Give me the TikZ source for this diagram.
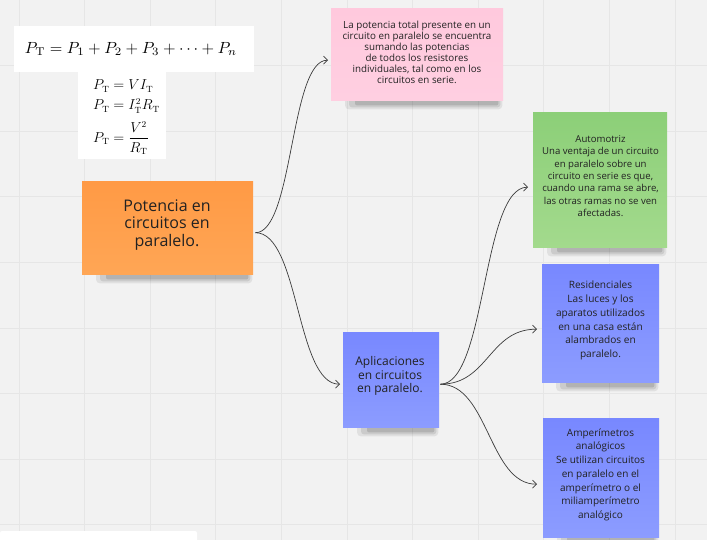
\documentclass[tikz,border=0pt]{standalone}
\usepackage[no-math]{fontspec}
\setmainfont{Open Sans}
\usepackage{amsmath}
\usepackage{graphicx}
\usetikzlibrary{backgrounds,arrows.meta}
\definecolor{bgc}{HTML}{F2F2F2}
\definecolor{gridc}{HTML}{E6E6E6}
\definecolor{txt}{HTML}{222222}
\definecolor{lnc}{HTML}{3A3A3A}
\definecolor{orA}{HTML}{FF9A45}
\definecolor{orB}{HTML}{FFA655}
\definecolor{pkA}{HTML}{FFC9DD}
\definecolor{pkB}{HTML}{FFCFE1}
\definecolor{grA}{HTML}{8CCF78}
\definecolor{grB}{HTML}{A3DA8D}
\definecolor{blA}{HTML}{7888FF}
\definecolor{blB}{HTML}{8C9CFF}
\newcommand\shadowunder[1]{%
  \begin{scope}[on background layer]
    \fill[black,opacity=0.07,rounded corners=4] ([xshift=14pt,yshift=-9pt]#1.south west) rectangle ([xshift=-1pt,yshift=3pt]#1.south east);
    \fill[black,opacity=0.09,rounded corners=3] ([xshift=18pt,yshift=-7pt]#1.south west) rectangle ([xshift=-3pt,yshift=3pt]#1.south east);
    \fill[black,opacity=0.12,rounded corners=2] ([xshift=24pt,yshift=-5pt]#1.south west) rectangle ([xshift=-5pt,yshift=3pt]#1.south east);
  \end{scope}}
\begin{document}
\begin{tikzpicture}[x=1pt,y=-1pt,
  sticky/.style={anchor=north west, inner sep=0pt, draw=none},
  stxt/.style={align=center, text=txt, inner sep=0pt},
  fml/.style={inner sep=0pt, font=\fontsize{13.5}{16}\selectfont},
  conn/.style={draw=lnc, line width=0.7pt, -{Straight Barb[length=4pt,width=8pt]}},
  wbox/.style={fill=white, draw=none, inner sep=0pt, anchor=north west}]
\useasboundingbox (0,0) rectangle (707,540);
\begin{scope}[on background layer]
  \fill[bgc] (0,0) rectangle (707,540);
  \foreach \k in {0,...,10} { \draw[gridc,line width=1pt] ({19+65.6*\k},0) -- ({19+65.6*\k},540); }
  \foreach \k in {1,...,8} { \draw[gridc,line width=1pt] (0,{0.5+65.5*\k}) -- (707,{0.5+65.5*\k}); }
\end{scope}
% bottom-left white strip
\fill[white,rounded corners=2] (0,531) -- (197,531) -- (197,545) -- (0,545) -- cycle;
% formulas
\node[wbox, minimum width=240pt, minimum height=46pt] (f1box) at (14,26) {};
\node[wbox, minimum width=88pt, minimum height=87pt] (f2box) at (78,72) {};
\node[inner sep=0pt] (f1) at (131,49) {\resizebox{212pt}{!}{$P_{\mathrm{T}} = P_1 + P_2 + P_3 + \cdots + P_n$}};
\node[fml, anchor=base west] (f2a) at (93,90) {$P_{\mathrm{T}} = VI_{\mathrm{T}}$};
\node[fml, anchor=base west] (f2b) at (93,110) {$P_{\mathrm{T}} = I_{\mathrm{T}}^2R_{\mathrm{T}}$};
\node[fml, anchor=west] (f2c) at (93,138) {$P_{\mathrm{T}} = \dfrac{V^2}{R_{\mathrm{T}}}$};
% sticky notes (boxes)
\node[sticky, minimum width=171pt, minimum height=93pt, top color=orA, bottom color=orB] (pot) at (82,181) {};
\node[sticky, minimum width=172pt, minimum height=92pt, top color=pkA, bottom color=pkB] (pink) at (331,8) {};
\node[sticky, minimum width=134pt, minimum height=135pt, top color=grA, bottom color=grB] (auto) at (533,112) {};
\node[sticky, minimum width=96pt, minimum height=95pt, top color=blA, bottom color=blB] (apl) at (343,332) {};
\node[sticky, minimum width=117pt, minimum height=118pt, top color=blA, bottom color=blB] (res) at (542,264) {};
\node[sticky, minimum width=116pt, minimum height=119pt, top color=blA, bottom color=blB] (amp) at (543,418) {};
% texts
\node[stxt, font=\fontsize{16}{17.9}\selectfont] (potT) at (167,225) {Potencia en\\circuitos en\\paralelo.};
\node[stxt, font=\fontsize{9.8}{11}\selectfont] (pinkT) at (417,52.5)
  {La potencia total presente en un\\circuito en paralelo se encuentra\\sumando las potencias\\de todos los resistores\\individuales, tal como en los\\circuitos en serie.};
\node[stxt, font=\fontsize{9.6}{12.3}\selectfont] (autoT) at (600.5,176)
  {Automotriz\\Una ventaja de un circuito\\en paralelo sobre un\\circuito en serie es que,\\cuando una rama se abre,\\las otras ramas no se ven\\afectadas.};
\node[stxt, font=\fontsize{12}{13.3}\selectfont] (aplT) at (390,376) {Aplicaciones\\en circuitos\\en paralelo.};
\node[stxt, font=\fontsize{10.1}{13.9}\selectfont] (resT) at (600.5,320.5)
  {Residenciales\\Las luces y los\\aparatos utilizados\\en una casa están\\alambrados en\\paralelo.};
\node[stxt, font=\fontsize{10}{13.67}\selectfont] (ampT) at (600.5,474.7)
  {Amperímetros\\analógicos\\Se utilizan circuitos\\en paralelo en el\\amperímetro o el\\miliamperímetro\\analógico};
\shadowunder{pot}
\shadowunder{pink}
\shadowunder{auto}
\shadowunder{apl}
\shadowunder{res}
\shadowunder{amp}
% connectors
\coordinate (s1) at ([shift={(2,5)}]pot.east);
\coordinate (s2) at ([shift={(1,4.5)}]apl.east);
\draw[conn] (s1) .. controls +(38,0) and +(-38,0) .. ([shift={(-3,6)}]pink.west);
\draw[conn] (s1) .. controls +(44,0) and +(-44,0) .. ([shift={(-3,4.5)}]apl.west);
\draw[conn] (s2) .. controls +(46,0) and +(-46,0) .. ([shift={(-5,7.5)}]auto.west);
\draw[conn] (s2) .. controls +(48,0) and +(-48,0) .. ([shift={(-5,6)}]res.west);
\draw[conn] (s2) .. controls +(48,0) and +(-48,0) .. ([shift={(-6,6.5)}]amp.west);
\end{tikzpicture}
\end{document}
